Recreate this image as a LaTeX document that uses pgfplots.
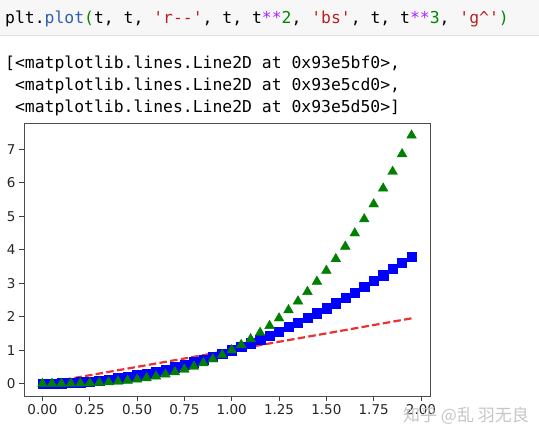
\documentclass[border=0pt]{standalone}
\usepackage{fontspec}
\setmainfont{DejaVu Sans}
\setmonofont{DejaVu Sans Mono}
\newfontfamily\cjk{Noto Sans CJK SC}
\usepackage{xcolor}
\usepackage{pgfplots}
\pgfplotsset{compat=1.18}

\definecolor{mplred}{RGB}{235,50,50}
\definecolor{mplblue}{RGB}{0,0,255}
\definecolor{mplgreen}{RGB}{0,128,0}
\definecolor{cellbg}{RGB}{247,247,247}
\definecolor{cellline}{RGB}{224,224,224}
\definecolor{kwblue}{RGB}{48,96,170}
\definecolor{strred}{RGB}{186,33,33}
\definecolor{oppurple}{RGB}{170,34,255}
\definecolor{numgreen}{RGB}{0,136,0}

\newcommand{\q}{\symbol{39}}

\pgfplotstableread{
t     t2      t3
0.00  0       0
0.05  0.0025  0.000125
0.10  0.01    0.001
0.15  0.0225  0.003375
0.20  0.04    0.008
0.25  0.0625  0.015625
0.30  0.09    0.027
0.35  0.1225  0.042875
0.40  0.16    0.064
0.45  0.2025  0.091125
0.50  0.25    0.125
0.55  0.3025  0.166375
0.60  0.36    0.216
0.65  0.4225  0.274625
0.70  0.49    0.343
0.75  0.5625  0.421875
0.80  0.64    0.512
0.85  0.7225  0.614125
0.90  0.81    0.729
0.95  0.9025  0.857375
1.00  1       1
1.05  1.1025  1.157625
1.10  1.21    1.331
1.15  1.3225  1.520875
1.20  1.44    1.728
1.25  1.5625  1.953125
1.30  1.69    2.197
1.35  1.8225  2.460375
1.40  1.96    2.744
1.45  2.1025  3.048625
1.50  2.25    3.375
1.55  2.4025  3.723875
1.60  2.56    4.096
1.65  2.7225  4.492125
1.70  2.89    4.913
1.75  3.0625  5.359375
1.80  3.24    5.832
1.85  3.4225  6.331625
1.90  3.61    6.859
1.95  3.8025  7.414875
}\curves

\begin{document}
\begin{tikzpicture}
\path[use as bounding box, fill=white] (0,0) rectangle (539pt,-440pt);

% code cell
\fill[cellbg] (0,0) rectangle (539pt,-35pt);
\draw[cellline, line width=1pt] (0,-35.5pt) -- (539pt,-35.5pt);
\node[anchor=base west, inner sep=0pt, font=\ttfamily\fontsize{16.4}{20}\selectfont]
  at (5pt,-23pt) {plt.\textcolor{kwblue}{plot}\textcolor{numgreen}{(}t, t, \textcolor{strred}{\q r-{}-\q}, t, t\textcolor{oppurple}{**}\textcolor{numgreen}{2}, \textcolor{strred}{\q bs\q}, t, t\textcolor{oppurple}{**}\textcolor{numgreen}{3}, \textcolor{strred}{\q g\symbol{94}\q}\textcolor{numgreen}{)}};

% output text
\begin{scope}[every node/.style={anchor=base west, inner sep=0pt, font=\ttfamily\fontsize{16.4}{20}\selectfont}]
\node at (5pt,-68pt) {[<matplotlib.lines.Line2D at 0x93e5bf0>,};
\node at (5pt,-90pt) {\ <matplotlib.lines.Line2D at 0x93e5cd0>,};
\node at (5pt,-112pt) {\ <matplotlib.lines.Line2D at 0x93e5d50>]};
\end{scope}

\begin{axis}[
    at={(24pt,-123pt)}, anchor=north west,
    scale only axis,
    width=406pt, height=273pt,
    xmin=-0.0975, xmax=2.0475,
    ymin=-0.3707, ymax=7.7856,
    xtick={0,0.25,0.5,0.75,1,1.25,1.5,1.75,2},
    ytick={0,1,2,3,4,5,6,7},
    xticklabel style={/pgf/number format/.cd, fixed, fixed zerofill, precision=2},
    /pgf/number format/assume math mode=true,
    ticklabel style={font=\fontsize{13.5}{15}\selectfont, text=black!85},
    tick align=outside,
    xtick pos=bottom, ytick pos=left,
    major tick length=5pt,
    tick style={black!75, line width=1pt},
    axis line style={black!70, line width=1pt},
    clip=false,
]
\addplot[mplred, line width=2.2pt, dash pattern=on 7.5pt off 3.3pt, mark=none]
    table[x=t, y=t] {\curves};
\addplot[only marks, mark=square*, mark size=4.6pt, color=mplblue,
    mark options={fill=mplblue, draw=mplblue}]
    table[x=t, y=t2] {\curves};
\addplot[only marks, mark=triangle*, mark size=5.6pt, color=mplgreen,
    mark options={fill=mplgreen, draw=mplgreen}]
    table[x=t, y=t3] {\curves};
\end{axis}

% watermark
\node[anchor=west, inner sep=0pt, text=gray!45, font=\cjk\fontsize{17}{20}\selectfont]
  at (403pt,-416pt) {知乎 @乱 羽无良};
\end{tikzpicture}
\end{document}
